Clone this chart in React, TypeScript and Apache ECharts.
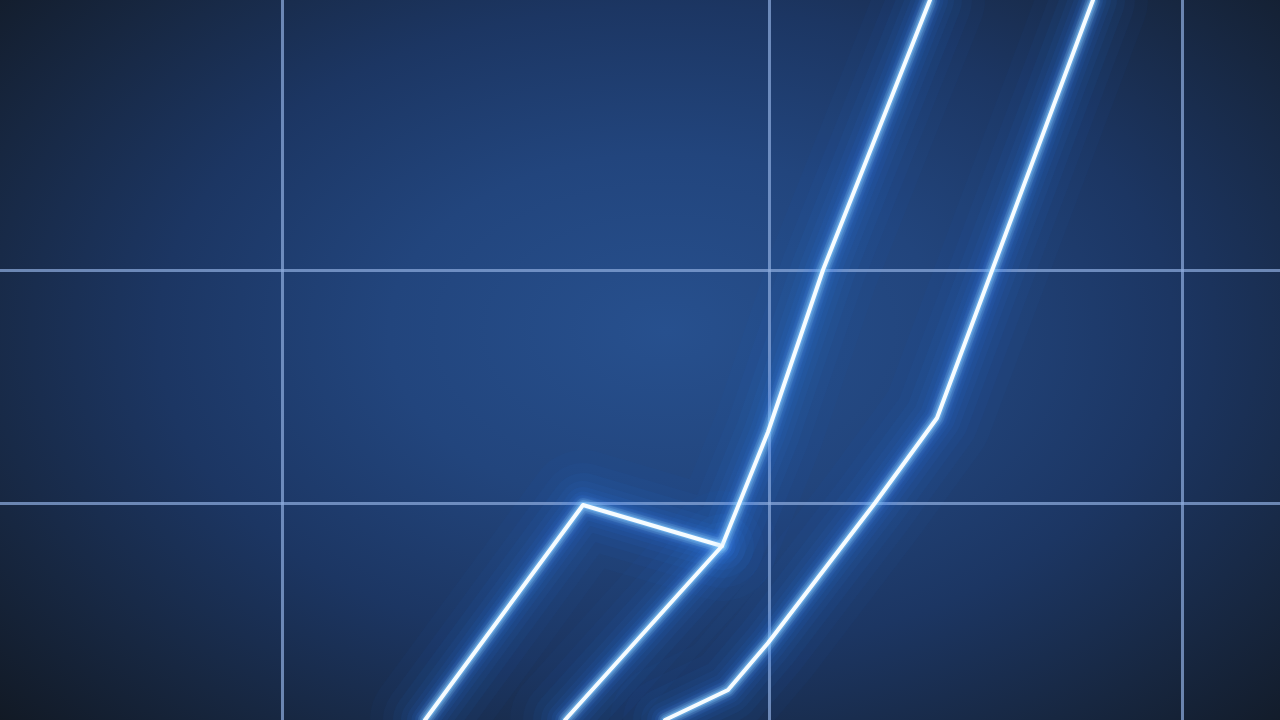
import React, { useEffect, useRef } from "react";
import * as echarts from "echarts";

// Axis ranges (chart units)
const xRange = [0, 128];
const yRange = [0, 72];

// Grid reference lines
const verticalGrid = [28.2, 76.9, 118.2];
const horizontalGrid = [45.0, 21.7];

// Series data as [x, y]
const lineA = [[42.5, 0], [58.3, 21.5], [72.2, 17.4], [76.8, 28.8], [82.3, 45.0], [93.0, 72]];
const lineB = [[56.5, 0], [72.2, 17.4]];
const lineC = [[66.5, 0], [72.8, 3.0], [76.8, 7.7], [87.5, 21.7], [93.7, 30.2], [109.3, 72]];

// soft glow: many stacked translucent strokes
const glowWidths = [110, 84, 64, 48, 36, 27, 20, 14, 10, 6.5];
const glowAlphas = [0.03, 0.04, 0.05, 0.06, 0.07, 0.08, 0.1, 0.13, 0.2, 0.35];

function makeSeries(name: string, data: number[][]) {
  const out: any[] = glowWidths.map((w, i) => ({
    name: name + "-glow" + i,
    type: "line",
    data,
    symbol: "none",
    silent: true,
    z: 2 + i,
    lineStyle: {
      width: w,
      color: i < 7 ? `rgba(45,130,255,${glowAlphas[i]})` : `rgba(120,200,255,${glowAlphas[i]})`,
      cap: "round",
      join: "round",
    },
  }));
  out.push({
    name,
    type: "line",
    data,
    symbol: "none",
    silent: true,
    z: 20,
    lineStyle: {
      width: 4,
      color: "#f6fcff",
      cap: "round",
      join: "round",
      shadowBlur: 8,
      shadowColor: "#9ad6ff",
    },
  });
  return out;
}

export default function App() {
  const ref = useRef<HTMLDivElement>(null);
  useEffect(() => {
    if (!ref.current) return;
    const chart = echarts.init(ref.current, undefined, { renderer: "svg" });
    chart.setOption({
      animation: false,
      backgroundColor: "transparent",
      grid: { left: 0, right: 0, top: 0, bottom: 0 },
      xAxis: {
        type: "value",
        min: xRange[0],
        max: xRange[1],
        show: false,
        splitLine: { show: false },
      },
      yAxis: {
        type: "value",
        min: yRange[0],
        max: yRange[1],
        show: false,
        splitLine: { show: false },
      },
      series: [
        {
          name: "grid",
          type: "line",
          data: [],
          silent: true,
          z: 1,
          markLine: {
            silent: true,
            symbol: "none",
            label: { show: false },
            lineStyle: { color: "rgba(140,170,220,0.72)", width: 3, type: "solid" },
            data: [
              ...verticalGrid.map((v) => ({ xAxis: v })),
              ...horizontalGrid.map((v) => ({ yAxis: v })),
            ],
          },
        },
        ...makeSeries("A", lineA),
        ...makeSeries("B", lineB),
        ...makeSeries("C", lineC),
      ],
    });
    return () => chart.dispose();
  }, []);
  return (
    <div
      ref={ref}
      style={{
        position: "fixed",
        left: 0,
        top: 0,
        width: 1280,
        height: 720,
        background:
          "radial-gradient(ellipse 72% 82% at 52% 46%, #27508e 0%, #22457d 30%, #1c3663 55%, #172741 78%, #111822 100%)",
      }}
    />
  );
}
